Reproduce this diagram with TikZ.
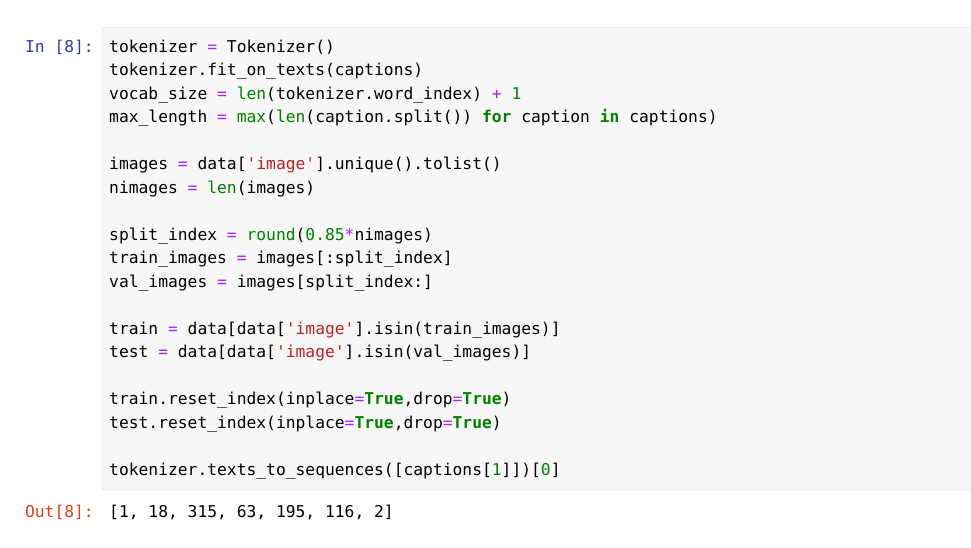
\documentclass[tikz,border=0pt]{standalone}
\usepackage{fontspec}
\newfontfamily\code{DejaVu Sans Mono}
\definecolor{kgreen}{HTML}{008000}
\definecolor{kpurple}{HTML}{AA22FF}
\definecolor{kred}{HTML}{BA2121}
\definecolor{inblue}{HTML}{303F9F}
\definecolor{outred}{HTML}{D84315}
\definecolor{cellbg}{HTML}{F7F7F7}
\definecolor{cellbd}{HTML}{CFCFCF}
\newcommand{\op}[1]{\textcolor{kpurple}{#1}}
\newcommand{\bi}[1]{\textcolor{kgreen}{#1}}
\newcommand{\kw}[1]{\textcolor{kgreen}{\bfseries #1}}
\newcommand{\st}[1]{\textcolor{kred}{#1}}
\begin{document}
\begin{tikzpicture}[x=1pt,y=-1pt,
  codeline/.style={anchor=base west,inner sep=0pt,font=\code\fontsize{16.3}{19}\selectfont,text=black},
  prompt/.style={anchor=base east,inner sep=0pt,font=\code\fontsize{16.3}{19}\selectfont}]
\useasboundingbox (0,0) rectangle (971,547);
\fill[white] (0,0) rectangle (971,547);
\draw[cellbd,fill=cellbg,rounded corners=2pt] (102.5,27.5) rectangle (975,490);
\node[prompt,text=inblue] (inp) at (94,52) {In [8]:};
\node[prompt,text=outred] (outp) at (94,517) {Out[8]:};
\def\L#1#2{\node[codeline] (l#1) at (109,{52+23.5*(#1-1)}) {#2};}
\L{1}{tokenizer \op{=} Tokenizer()}
\L{2}{tokenizer.fit\_on\_texts(captions)}
\L{3}{vocab\_size \op{=} \bi{len}(tokenizer.word\_index) \op{+} \bi{1}}
\L{4}{max\_length \op{=} \bi{max}(\bi{len}(caption.split()) \kw{for} caption \kw{in} captions)}
\L{6}{images \op{=} data[\st{'image'}].unique().tolist()}
\L{7}{nimages \op{=} \bi{len}(images)}
\L{9}{split\_index \op{=} \bi{round}(\bi{0.85}\op{*}nimages)}
\L{10}{train\_images \op{=} images[:split\_index]}
\L{11}{val\_images \op{=} images[split\_index:]}
\L{13}{train \op{=} data[data[\st{'image'}].isin(train\_images)]}
\L{14}{test \op{=} data[data[\st{'image'}].isin(val\_images)]}
\L{16}{train.reset\_index(inplace\op{=}\kw{True},drop\op{=}\kw{True})}
\L{17}{test.reset\_index(inplace\op{=}\kw{True},drop\op{=}\kw{True})}
\L{19}{tokenizer.texts\_to\_sequences([captions[\bi{1}]])[\bi{0}]}
\node[codeline] (out) at (109,517) {[1, 18, 315, 63, 195, 116, 2]};
\end{tikzpicture}
\end{document}
